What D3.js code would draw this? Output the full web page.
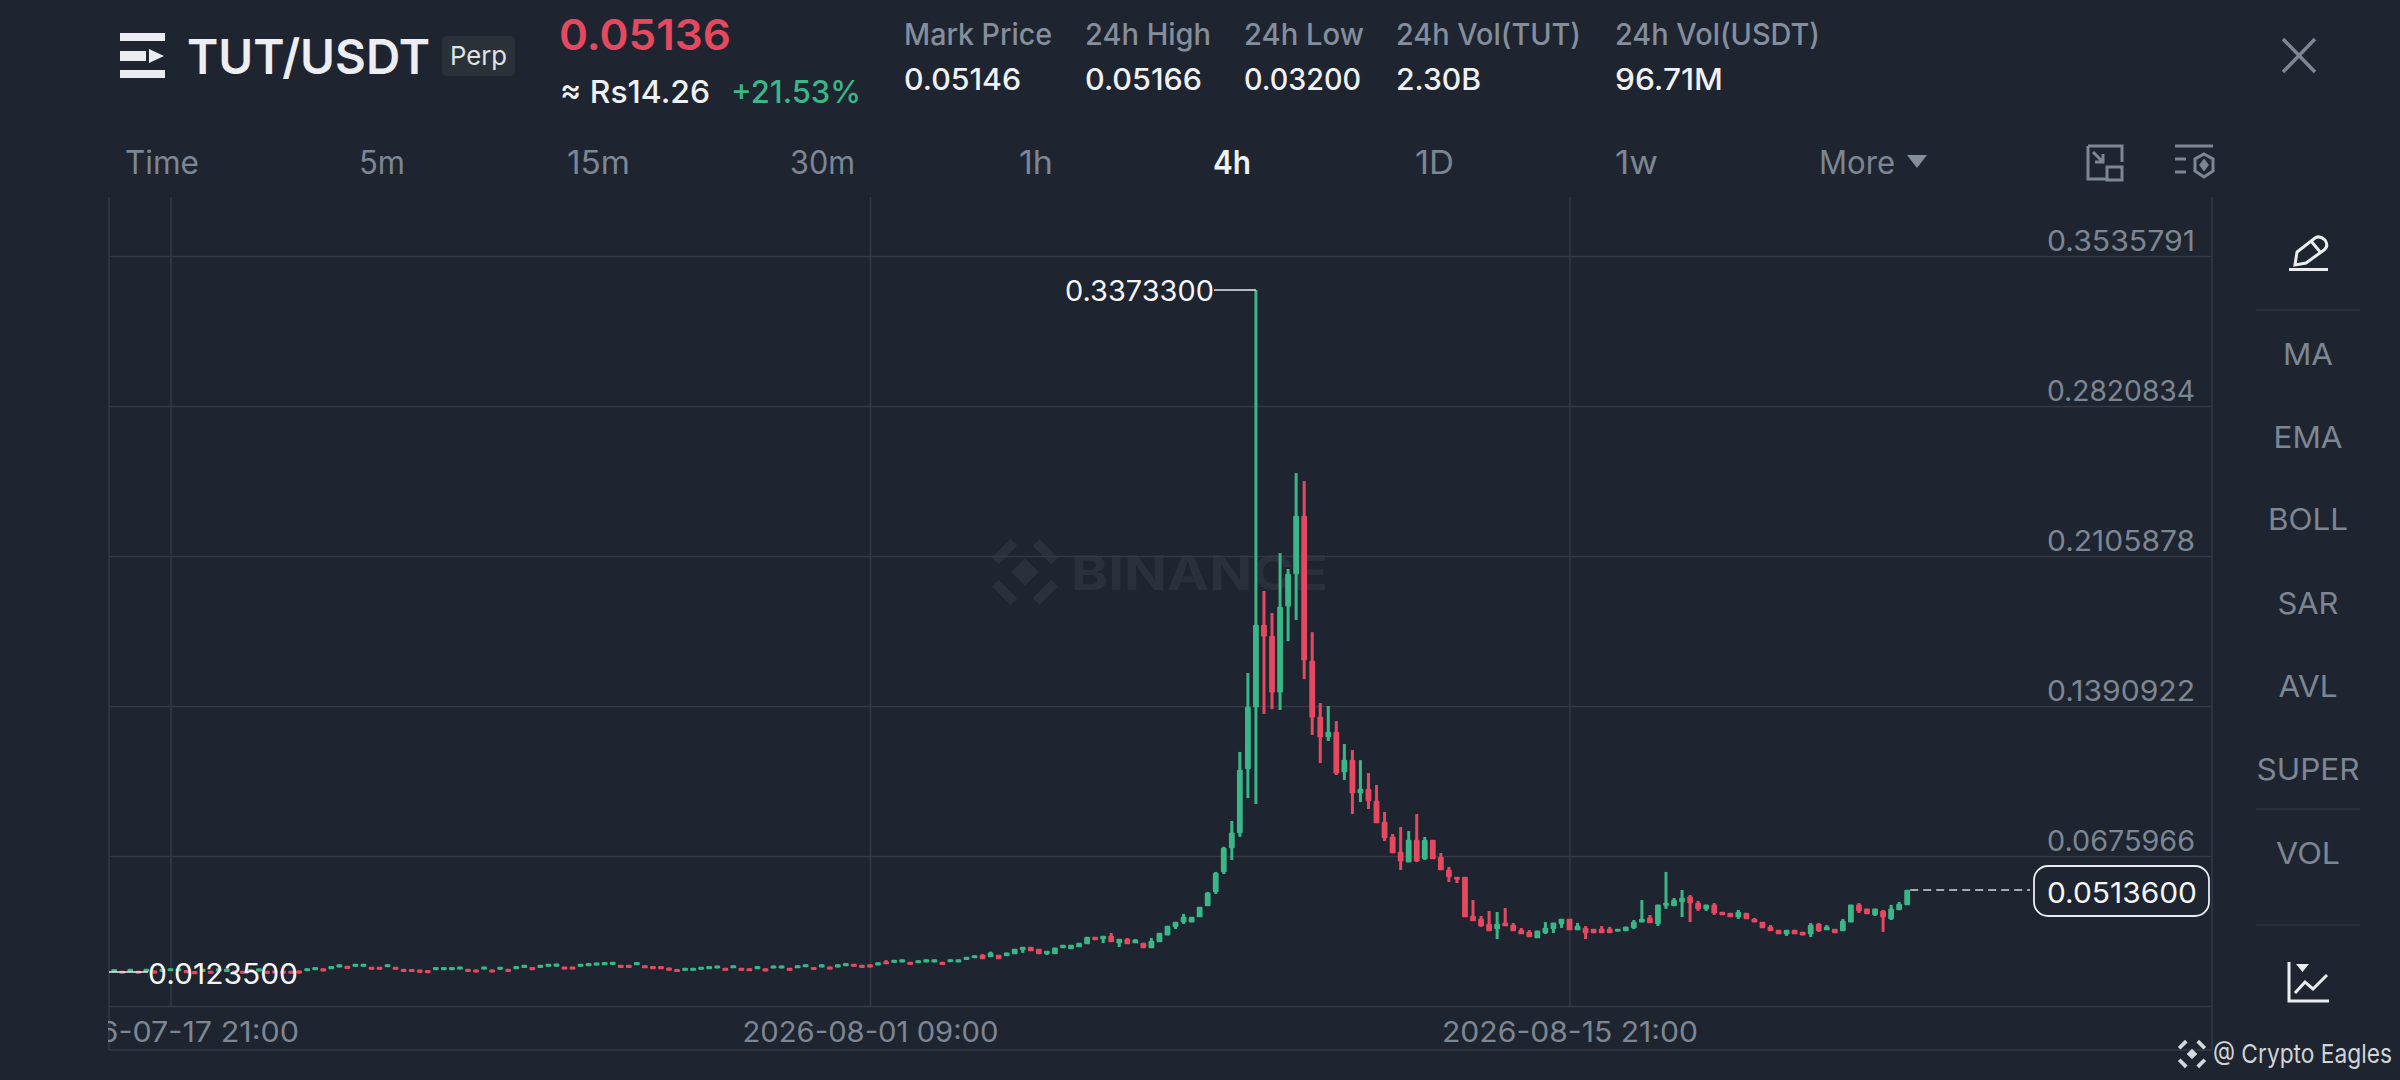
<!DOCTYPE html>
<html><head><meta charset="utf-8">
<script src="https://cdn.jsdelivr.net/npm/d3@7"></script>
<style>html,body{margin:0;padding:0;background:#1e2530;overflow:hidden}svg{display:block}text{font-family:Inter,"Open Sans",sans-serif}</style>
</head><body><svg id="c" width="2400" height="1080"></svg>
<script>
// ---- data ----
const firstOffset = -7; // candles before the 2026-07-17 21:00 tick
const opens = [
.0124,.0128,.0125,.0128,.0125,.0129,.0125,
.0128,.0128,.0131,.0126,.0125,.0128,.0127,.0125,.0129,.0128,
.0124,.0127,.0128,.0129,.0128,.0128,.0129,.0128,.0133,.0139,
.0138,.0146,.0151,.0149,.0149,.0147,.0147,.0147,.0147,.0137,
.0136,.0133,.0131,.0133,.0133,.0133,.0136,.0137,.0134,.0136,
.0134,.0135,.0137,.0138,.0144,.0145,.0144,.0149,.0150,.0148,
.0148,.0149,.0152,.0155,.0157,.0158,.0156,.0156,.0157,.0154,
.0150,.0150,.0143,.0136,.0130,.0130,.0135,.0138,.0141,.0142,
.0142,.0142,.0140,.0138,.0139,.0141,.0141,.0142,.0142,.0147,
.0146,.0146,.0148,.0146,.0152,.0161,.0156,.0158,.0156,.0173,
.0168,.0170,.0170,.0166,.0170,.0170,.0170,.0171,.0170,.0182,
.0190,.0204,.0195,.0204,.0200,.0209,.0228,.0242,.0233,.0209,
.0209,.0238,.0233,.0242,.0257,.0290,.0280,.0295,.0261,.0280,
.0261,.0261,.0238,.0266,.0299,.0338,.0361,.0361,.0385,.0438,
.0505,.0600,.0714,.0786,.1091,.1386,.1777,.1724,.1457,.1867,
.2020,.2296,.1605,.1338,.1243,.1267,.1076,.1133,.0976,.0995,
.0938,.0838,.0767,.0695,.0647,.0752,.0662,.0752,.0671,.0609,
.0576,.0576,.0390,.0376,.0352,.0328,.0357,.0347,.0323,.0314,
.0285,.0309,.0328,.0352,.0376,.0323,.0333,.0328,.0328,.0328,
.0319,.0319,.0333,.0361,.0381,.0352,.0443,.0438,.0457,.0481,
.0452,.0424,.0443,.0409,.0404,.0385,.0404,.0376,.0361,.0338,
.0323,.0304,.0323,.0314,.0304,.0352,.0323,.0328,.0319,.0361,
.0443,.0424,.0395,.0414,.0376,.0419,.0443];
const closes = [
.0136,.0116,.0137,.0116,.0137,.0117,.0137,
.0140,.0140,.0119,.0114,.0137,.0116,.0139,.0137,.0117,.0116,
.0136,.0139,.0116,.0117,.0116,.0116,.0117,.0140,.0145,.0127,
.0150,.0158,.0139,.0161,.0161,.0135,.0135,.0159,.0135,.0125,
.0124,.0121,.0119,.0145,.0145,.0145,.0148,.0125,.0122,.0148,
.0122,.0147,.0125,.0150,.0156,.0133,.0156,.0161,.0162,.0136,
.0136,.0161,.0164,.0167,.0169,.0170,.0144,.0144,.0169,.0142,
.0138,.0138,.0131,.0124,.0142,.0142,.0147,.0150,.0153,.0130,
.0154,.0130,.0128,.0150,.0127,.0153,.0153,.0130,.0154,.0159,
.0134,.0158,.0136,.0158,.0164,.0149,.0144,.0146,.0168,.0161,
.0180,.0182,.0158,.0178,.0182,.0182,.0158,.0183,.0182,.0194,
.0202,.0185,.0214,.0185,.0215,.0233,.0242,.0223,.0209,.0223,
.0238,.0252,.0252,.0261,.0290,.0276,.0295,.0266,.0280,.0257,
.0276,.0238,.0271,.0309,.0342,.0361,.0385,.0385,.0433,.0500,
.0595,.0714,.0786,.1086,.1386,.1777,.1724,.1457,.1862,.2020,
.2296,.1610,.1338,.1243,.1267,.1071,.1133,.0976,.0995,.0938,
.0833,.0762,.0690,.0652,.0752,.0652,.0752,.0662,.0609,.0576,
.0569,.0385,.0366,.0342,.0319,.0352,.0342,.0319,.0304,.0290,
.0319,.0333,.0357,.0376,.0323,.0342,.0309,.0309,.0309,.0309,
.0328,.0338,.0361,.0376,.0357,.0443,.0452,.0466,.0476,.0452,
.0424,.0443,.0404,.0395,.0385,.0409,.0376,.0361,.0333,.0319,
.0304,.0323,.0304,.0299,.0347,.0319,.0338,.0309,.0366,.0443,
.0414,.0400,.0424,.0385,.0424,.0447,.05136];
// wick ends that reach beyond the body, keyed by candle offset
const highWicks = {89:.0180,101:.0209,102:.0220,117:.0309,119:.0285,120:.0280,122:.0285,126:.0400,129:.0505,130:.0600,131:.0720,132:.0843,133:.1172,134:.1548,135:.33733,136:.1939,137:.1834,138:.2120,139:.2044,140:.2501,141:.2463,142:.1743,143:.1405,144:.1391,145:.1319,146:.1210,147:.1181,148:.1133,149:.1071,150:.1014,151:.0886,152:.0781,153:.0814,154:.0795,155:.0876,156:.0767,158:.0690,159:.0624,162:.0466,163:.0390,164:.0414,165:.0409,166:.0428,167:.0357,168:.0333,169:.0323,171:.0361,175:.0357,176:.0342,178:.0342,179:.0338,182:.0371,183:.0466,184:.0395,186:.0600,187:.0476,188:.0514,189:.0490,190:.0462,192:.0452,195:.0419,197:.0381,199:.0347,204:.0357,205:.0357,206:.0347,208:.0376,210:.0452,213:.0419,214:.0443,215:.0457};
const lowWicks = {106:.0214,109:.0204,116:.0261,118:.0242,125:.0328,126:.0352,130:.0495,131:.0590,132:.0657,133:.0767,134:.0952,135:.0924,136:.1353,137:.1376,138:.1372,139:.1700,140:.1801,141:.1519,142:.1253,143:.1119,144:.1224,145:.1062,146:.1038,147:.0876,148:.0933,149:.0900,151:.0747,153:.0609,155:.0647,156:.0657,159:.0552,160:.0547,163:.0338,165:.0280,171:.0304,172:.0309,173:.0333,176:.0280,182:.0328,185:.0342,186:.0424,188:.0385,189:.0361,190:.0414,191:.0414,192:.0395,195:.0376,201:.0295,204:.0290,205:.0314,210:.0404,212:.0390,213:.0314,214:.0371};
const priceTicks = [0.3535791,0.2820834,0.2105878,0.1390922,0.0675966];
const bottomGrid = -0.0038990;
const timeTicks = ["2026-07-17T21:00Z","2026-08-01T09:00Z","2026-08-15T21:00Z"];
const highestPrice = 0.33733, lowestPrice = 0.01235, lastPrice = 0.05136;
const indicators = ["MA","EMA","BOLL","SAR","AVL","SUPER","VOL"];
const intervals = ["Time","5m","15m","30m","1h","4h","1D","1w","More"];
const statLabels = ["Mark Price","24h High","24h Low","24h Vol(TUT)","24h Vol(USDT)"];
const statValues = ["0.05146","0.05166","0.03200","2.30B","96.71M"];

// ---- drawing ----
const BG="#1e2530",GRID="#333a45",GREEN="#3ab687",RED="#e5495f",MUTED="#848e9c",WHITE="#eaecef";
const svg=d3.select("#c");
svg.append("rect").attr("width",2400).attr("height",1080).attr("fill",BG);
function T(g,x,y,s,size,fill,width,weight,anchor){
  const n=g.append("text").attr("x",x).attr("y",y).text(s).attr("font-size",size).attr("fill",fill)
   .attr("font-weight",weight||400).attr("text-anchor",anchor||"start");
  if(width) n.attr("textLength",width).attr("lengthAdjust","spacingAndGlyphs");
  return n;
}
const L=109,R=2212,TOP=197,GB=1006,B=1050;
const x=d3.scaleUtc().domain([new Date(timeTicks[0]),new Date(timeTicks[2])]).range([170.5,1569.5]);
const y=d3.scaleLinear().domain([priceTicks[4],priceTicks[0]]).range([856,256]);
svg.append("defs").append("clipPath").attr("id","plot").append("rect").attr("x",L).attr("y",TOP).attr("width",R-L).attr("height",B-TOP);

// frame
const frame=svg.append("g").attr("stroke",GRID).attr("stroke-width",1.5);
frame.append("line").attr("x1",L).attr("x2",L).attr("y1",TOP).attr("y2",B);
frame.append("line").attr("x1",R).attr("x2",R).attr("y1",TOP).attr("y2",B);
frame.append("line").attr("x1",L).attr("x2",R).attr("y1",B).attr("y2",B);

// watermark
const wm=svg.append("g");
wm.append("g").attr("transform","translate(1025,572) rotate(45) scale(1.2)").attr("fill","#2a313c").call(g=>{
  [[-11,-28,22,8],[-28,-11,8,22],[20,-11,8,22],[-11,20,22,8],[-8,-8,16,16]].forEach(r=>g.append("rect").attr("x",r[0]).attr("y",r[1]).attr("width",r[2]).attr("height",r[3]));
});
T(wm,1071,590,"BINANCE",48,"#2a313c",257,700);

// y axis + grid
const yAxis=d3.axisLeft(y).tickValues([...priceTicks,bottomGrid]).tickSize(R-L)
  .tickFormat(d=>d===bottomGrid?"":d3.format(".7f")(d));
const ya=svg.append("g").attr("transform",`translate(${R},0)`).call(yAxis);
ya.select(".domain").remove();
ya.selectAll(".tick line").attr("stroke",GRID).attr("stroke-width",1.5);
ya.selectAll(".tick text").attr("x",-17).attr("dy",-5.5).attr("font-size",28).attr("fill","#7d8693")
  .attr("font-family","Inter").attr("text-anchor","end").attr("dominant-baseline","auto")
  .attr("textLength",148).attr("lengthAdjust","spacingAndGlyphs");

// x axis + grid
const fmt=d3.utcFormat("%Y-%m-%d %H:%M");
const xAxis=d3.axisBottom(x).tickValues(timeTicks.map(d=>new Date(d))).tickSize(GB-TOP).tickFormat(fmt);
const xa=svg.append("g").attr("transform",`translate(0,${TOP})`).attr("clip-path","url(#xclip)").call(xAxis);
svg.select("defs").append("clipPath").attr("id","xclip").append("rect").attr("x",L-1).attr("y",-10).attr("width",R-L).attr("height",900);
xa.select(".domain").remove();
xa.selectAll(".tick line").attr("stroke",GRID).attr("stroke-width",1.5);
xa.selectAll(".tick text").attr("y",GB-TOP+14).attr("dy",0).attr("font-size",28).attr("fill","#7d8693")
  .attr("font-family","Inter").attr("textLength",256).attr("lengthAdjust","spacingAndGlyphs")
  .attr("transform",null).attr("dominant-baseline","hanging");

// candles
const candles=opens.map((o,k)=>{
  const i=k+firstOffset,c=closes[k];
  return {t:d3.utcHour.offset(new Date(timeTicks[0]),i*4),o,c,
    h:highWicks[i]!==undefined?highWicks[i]:Math.max(o,c),
    l:lowWicks[i]!==undefined?lowWicks[i]:Math.min(o,c)};
});
const cg=svg.append("g").attr("clip-path","url(#plot)");
const col=d=>d.c>=d.o?GREEN:RED;
cg.selectAll("line.w").data(candles).join("line").attr("class","w")
  .attr("x1",d=>x(d.t)).attr("x2",d=>x(d.t)).attr("y1",d=>y(d.h)).attr("y2",d=>y(d.l))
  .attr("stroke",col).attr("stroke-width",3);
cg.selectAll("rect.b").data(candles).join("rect").attr("class","b")
  .attr("x",d=>x(d.t)-2.9).attr("width",5.8)
  .attr("y",d=>y(Math.max(d.o,d.c))-0.3)
  .attr("height",d=>Math.max(3,Math.abs(y(d.o)-y(d.c))+0.6))
  .attr("rx",1.2).attr("fill",col);

// high / low markers
const hiCandle=candles.find(d=>d.h===highestPrice);
const an=svg.append("g");
an.append("line").attr("x1",x(hiCandle.t)-42).attr("x2",x(hiCandle.t)).attr("y1",y(highestPrice)).attr("y2",y(highestPrice)).attr("stroke",WHITE).attr("stroke-width",1.5);
T(an,x(hiCandle.t)-42,y(highestPrice)+10.5,d3.format(".7f")(highestPrice),28,"#f5f6f7",149,400,"end");
an.append("line").attr("x1",L).attr("x2",148).attr("y1",y(lowestPrice)).attr("y2",y(lowestPrice)).attr("stroke",WHITE).attr("stroke-width",1.5);
T(an,148,y(lowestPrice)+12,d3.format(".7f")(lowestPrice),28,"#f5f6f7",150);

// last price
const lastC=candles[candles.length-1];
an.append("line").attr("x1",x(lastC.t)+3).attr("x2",2030).attr("y1",y(lastPrice)).attr("y2",y(lastPrice)).attr("stroke","#d5d8dc").attr("stroke-width",1.6).attr("stroke-dasharray","8 5");
an.append("rect").attr("x",2034).attr("y",866).attr("width",175).attr("height",50).attr("rx",14).attr("fill",BG).attr("stroke",WHITE).attr("stroke-width",1.8);
T(an,2047,902.5,d3.format(".7f")(lastPrice),28.5,"#f5f6f7",150);

// header
const h=svg.append("g");
h.append("g").attr("fill","#eaecef").call(g=>{
  g.append("rect").attr("x",120).attr("y",33).attr("width",45).attr("height",8);
  g.append("rect").attr("x",120).attr("y",51).attr("width",26).attr("height",10);
  g.append("path").attr("d","M149 49L164 56L149 63Z");
  g.append("rect").attr("x",120).attr("y",70).attr("width",45).attr("height",8);
});
T(h,187,74,"TUT/USDT",48,"#eceef1",243,600);
h.append("rect").attr("x",442).attr("y",36).attr("width",73).attr("height",40).attr("rx",5).attr("fill","#2b3139");
T(h,450,65,"Perp",26,"#dfe2e6",57);
T(h,559,49.5,"0.05136",43,RED,172,600);
T(h,560,102.5,"≈ Rs14.26",31,"#f0f1f3",150,500);
T(h,731,102.5,"+21.53%",31,GREEN,130,500);
const statX=[904,1085,1244,1396,1615],statW=[148,126,120,185,205],valW=[117,117,117,85,108];
statLabels.forEach((s,i)=>T(h,statX[i],45,s,30,MUTED,statW[i],500));
statValues.forEach((s,i)=>T(h,statX[i],90,s,30,"#f0f1f3",valW[i],500));
const tabX=[125,359,567,790,1019,1213,1415,1615,1819],tabW=[74,46,63,65,34,38,39,43,76];
intervals.forEach((s,i)=>T(h,tabX[i],174,s,32,s==="4h"?"#f0f1f3":"#7d8693",tabW[i],s==="4h"?600:400));
h.append("path").attr("d","M1907 155H1927L1917 168Z").attr("fill","#848e9c");
// toolbar icons
const ic=h.append("g").attr("fill","none").attr("stroke","#7d8693").attr("stroke-width",3);
ic.append("path").attr("d","M2088 146H2122V162M2088 146V179H2106");
ic.append("rect").attr("x",2107).attr("y",167).attr("width",15).attr("height",13);
ic.append("path").attr("d","M2093 152L2103 162M2095 162H2103V154");
ic.append("path").attr("d","M2175 146H2213M2175 159H2186M2175 172H2186");
ic.append("path").attr("d","M2204 154L2213 159V171L2204 177L2195 171V159Z");
ic.append("path").attr("d","M2204 161L2207 165L2204 169L2201 165Z").attr("fill","#7d8693");
// close
h.append("path").attr("d","M2283 39L2315 72M2315 39L2283 72").attr("stroke","#7d8693").attr("stroke-width",3.5).attr("fill","none");

// side panel
const sp=svg.append("g");
const indY=[365,448,530,614,697,780,864],indW=[50,69,80,61,59,103,64];
indicators.forEach((s,i)=>T(sp,2308,indY[i],s,29.5,"#7d8693",indW[i],400,"middle"));
[310,809,925].forEach(yy=>sp.append("line").attr("x1",2256).attr("x2",2360).attr("y1",yy).attr("y2",yy).attr("stroke","#2e3540").attr("stroke-width",1.5));
sp.append("path").attr("d","M2297 252L2315 238Q2320 235 2325 240Q2329 246 2324 250L2306 263L2295 265Z M2311 241L2321 253").attr("fill","none").attr("stroke","#eaecef").attr("stroke-width",3);
sp.append("rect").attr("x",2289).attr("y",268).attr("width",39).attr("height",3).attr("fill","#eaecef");
sp.append("path").attr("d","M2289 962V1001H2329").attr("fill","none").attr("stroke","#eaecef").attr("stroke-width",3);
sp.append("path").attr("d","M2295 993L2305 982L2313 989L2327 975").attr("fill","none").attr("stroke","#eaecef").attr("stroke-width",3);
sp.append("path").attr("d","M2296 964H2309L2302.5 972Z").attr("fill","#eaecef");

// credit
const cr=svg.append("g");
cr.append("g").attr("transform","translate(2192,1054) rotate(45) scale(1.25)").attr("fill","#d5d8dc").call(g=>{
  [[-4,-12,8,3],[-12,-4,3,8],[9,-4,3,8],[-4,9,8,3],[-3,-3,6,6]].forEach(r=>g.append("rect").attr("x",r[0]).attr("y",r[1]).attr("width",r[2]).attr("height",r[3]));
});
T(cr,2213,1063,"@ Crypto Eagles",26,"#d0d3d7",179,400);
</script></body></html>
